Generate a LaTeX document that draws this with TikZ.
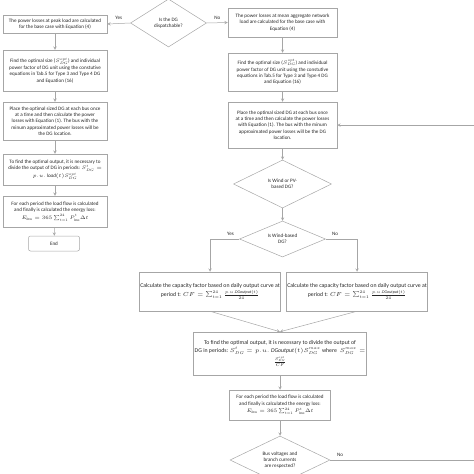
\documentclass[tikz,border=0pt]{standalone}
\usepackage{fix-cm}
\usepackage{amsmath}
\usepackage{fontspec}
\setmainfont{Carlito}
\usetikzlibrary{arrows,shapes.geometric}

\begin{document}
\begin{tikzpicture}[x=1pt,y=-1pt,>=stealth,
	every node/.style={font=\fontsize{5.1}{6.3}\selectfont,text=black!85},
	box/.style={draw=black!35,line width=0.5pt,rectangle,align=center,inner sep=1pt},
	wide/.style={font=\fontsize{5.8}{6.8}\selectfont},
	dec/.style={draw=black!35,line width=0.5pt,diamond,shape aspect=2,align=center,inner sep=0pt},
	flow/.style={draw=black!35,line width=0.5pt,->}]
\useasboundingbox (0,0) rectangle (474,474);
\clip (0,0) rectangle (474,474);

% decision on top
\node[dec,minimum width=76,minimum height=48] (dsp) at (168.5,23) {Is the DG\\dispatchable?};

% left branch: dispatchable DG
\node[box,minimum width=104,minimum height=18] (pk) at (55,24)
	{The power losses at peak load are calculated\\for the base case with Equation (4)};
\node[box,minimum width=104,minimum height=41] (sz1) at (55,70.5)
	{Find the optimal size ($S_{DG}^{opt}$) and individual\\[0.6pt]power factor of DG unit using the constutive\\equations in Tab.5 for Type 3 and Type 4 DG\\and Equation (16)};
\node[box,minimum width=104,minimum height=38] (plc1) at (55,121)
	{Place the optimal sized DG at each bus once\\at a time and then calculate the power\\losses with Equation (1). The bus with the\\minum approximated power losses will be\\the DG location.};
\node[box,minimum width=104,minimum height=31] (out1) at (55,169.5)
	{To find the optimal output, it is necessary to\\divide the output of DG in periods: $S_{DG}^{t}=$\\[0.8pt]$p.u.\,\mathit{load}(t)S_{DG}^{opt}$};
\node[box,minimum width=104,minimum height=31] (lf1) at (55,211.5)
	{For each period the load flow is calculated\\and finally is calculated the energy loss:\\[1pt]$E_{\mathit{loss}}=365\sum_{t=1}^{24}P_{\mathit{loss}}^{t}\Delta t$};
\node[box,rounded corners=2pt,minimum width=51,minimum height=15] (end) at (54,243.5) {End};

% right branch: non-dispatchable DG
\node[box,minimum width=109,minimum height=29] (mn) at (282.5,22.5)
	{The power losses at mean aggregate network\\load are calculated for the base case with\\Equation (4)};
\node[box,minimum width=109,minimum height=38] (sz2) at (282.5,72)
	{Find the optimal size ($S_{DG}^{opt}$) and individual\\[0.6pt]power factor of DG unit using the constutive\\equations in Tab.5 for Type 3 and Type 4 DG\\and Equation (16)};
\node[box,minimum width=109,minimum height=46] (plc2) at (282.5,125)
	{Place the optimal sized DG at each bus once\\at a time and then calculate the power losses\\with Equation (1). The bus with the minum\\approximated power losses will be the DG\\location.};
\node[dec,minimum width=98,minimum height=48] (res) at (282.5,184) {Is Wind or PV-\\based DG?};
\node[dec,minimum width=86,minimum height=36] (wnd) at (282.5,239) {Is Wind-based\\DG?};
\node[box,wide,minimum width=136,minimum height=39] (cf1) at (210,291.5)
	{Calculate the capacity factor based on daily output curve at\\[0.8pt]period t: $CF=\sum_{t=1}^{24}\frac{p.u.\mathit{DGoutput}(t)}{24}$};
\node[box,wide,minimum width=136,minimum height=39] (cf2) at (357,291.5)
	{Calculate the capacity factor based on daily output curve at\\[0.8pt]period t: $CF=\sum_{t=1}^{24}\frac{p.u.\mathit{DGoutput}(t)}{24}$};
\node[box,wide,minimum width=152,minimum height=43] (out2) at (280,353.5)
	{To find the optimal output, it is necessary to divide the output of\\[0.8pt]DG in periods: $S_{DG}^{t}=p.u.\,\mathit{DGoutput}(t)S_{DG}^{max}$ where\enspace$S_{DG}^{max}=$\\[1pt]$\frac{S_{DG}^{opt}}{CF}$};
\node[box,minimum width=101,minimum height=30] (lf2) at (280,405)
	{For each period the load flow is calculated\\and finally is calculated the energy loss:\\[1pt]$E_{\mathit{loss}}=365\sum_{t=1}^{24}P_{\mathit{loss}}^{t}\Delta t$};
\node[dec,minimum width=100,minimum height=48] (ok) at (280,460) {Bus voltages and\\branch currents\\are respected?};
\coordinate (back) at (495,460);

% connectors
\draw[flow] (dsp.west) -- node[above]{Yes} (pk.east);
\draw[flow] (dsp.east) -- node[above]{No} (mn.west);
\draw[flow] (pk) -- (sz1);
\draw[flow] (sz1) -- (plc1);
\draw[flow] (plc1) -- (out1);
\draw[flow] (out1) -- (lf1);
\draw[flow] (lf1) -- (end);
\draw[flow] (mn) -- (sz2);
\draw[flow] (sz2) -- (plc2);
\draw[flow] (plc2) -- (res);
\draw[flow] (res) -- (wnd);
\draw[flow] (wnd.west) -| node[above,pos=0.15]{Yes} (cf1.north);
\draw[flow] (wnd.east) -| node[above,pos=0.15]{No} (cf2.north);
\draw[flow] (cf1.south) -- (out2.north);
\draw[flow] (cf2.south) -- (out2.north);
\draw[flow] (out2) -- (lf2);
\draw[flow] (lf2) -- (ok);
\draw[flow] (ok.east) -- node[above,pos=0.06]{No} (back) |- (plc2.east);
\end{tikzpicture}
\end{document}
